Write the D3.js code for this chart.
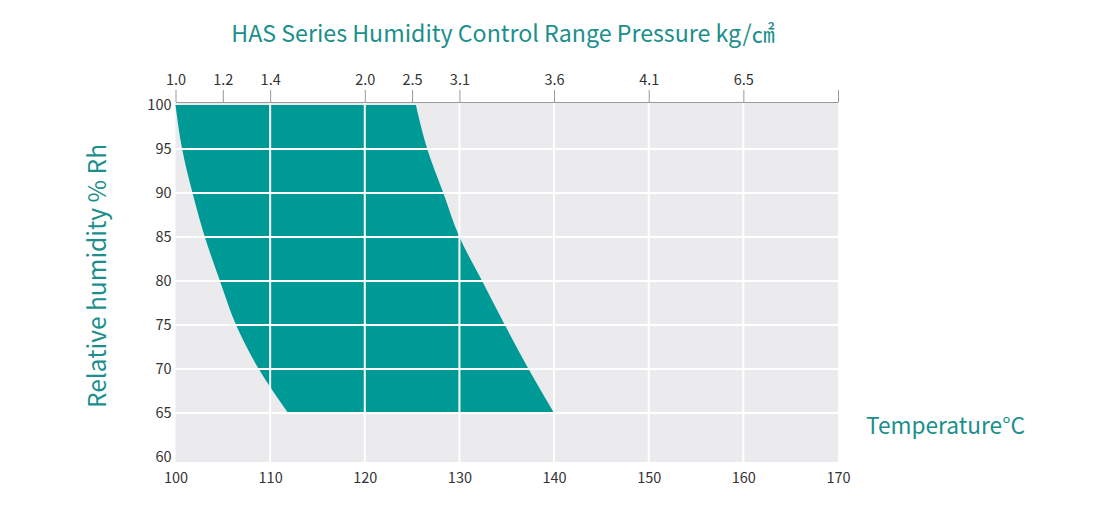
<!DOCTYPE html>
<html>
<head>
<meta charset="utf-8">
<script src="https://cdn.jsdelivr.net/npm/d3@7"></script>
<style>
  body { margin: 0; background: #fff; }
  svg text { font-family: "Noto Sans CJK SC", "Noto Sans", sans-serif; }
</style>
</head>
<body>
<svg id="chart" width="1099" height="527"></svg>
<script>
// humidity levels (% Rh) and the temperature limits
const humidity = [100, 95, 90, 85, 80, 75, 70, 65];
const leftTemp = [100, 100.7, 101.8, 103.1, 104.7, 106.4, 108.8, 111.9];
const rightTemp = [125.4, 126.6, 128.3, 130.0, 132.4, 134.8, 137.3, 140.0];

// axes
const tempTicks = [100, 110, 120, 130, 140, 150, 160, 170];
const humTicks = [60, 65, 70, 75, 80, 85, 90, 95, 100];
const pressureLabels = ['1.0', '1.2', '1.4', '2.0', '2.5', '3.1', '3.6', '4.1', '6.5', ''];
const pressureAt = [100, 105, 110, 120, 125, 130, 140, 150, 160, 170];

const teal = '#009a96';
const textTeal = '#1b8f8c';

const svg = d3.select('#chart');

const x = d3.scaleLinear().domain([100, 170]).range([175.5, 838]);
const y = d3.scaleLinear().domain([60, 100]).range([457, 105]);

const plotTop = 103, plotBottom = 462;

// grey plot background
svg.append('rect')
  .attr('x', x(100))
  .attr('y', plotTop)
  .attr('width', x(170) - x(100))
  .attr('height', plotBottom - plotTop)
  .attr('fill', '#ebebed');

// range band
const rows = humidity.map((h, i) => ({h: h, l: leftTemp[i], r: rightTemp[i]}));
const area = d3.area()
  .y(d => y(d.h))
  .x0(d => x(d.l))
  .x1(d => x(d.r))
  .curve(d3.curveMonotoneY);

svg.append('path')
  .datum(rows)
  .attr('d', area)
  .attr('fill', teal);

// white grid on top of everything
const grid = svg.append('g').attr('stroke', '#fff').attr('stroke-width', 2);
grid.selectAll('.vg')
  .data(tempTicks.filter(t => t > 100 && t < 170))
  .enter().append('line')
  .attr('x1', d => x(d)).attr('x2', d => x(d))
  .attr('y1', plotTop).attr('y2', plotBottom);
grid.selectAll('.hg')
  .data(humTicks.filter(t => t > 60 && t < 100))
  .enter().append('line')
  .attr('x1', x(100)).attr('x2', x(170))
  .attr('y1', d => y(d)).attr('y2', d => y(d));

// top pressure axis
const topAxis = svg.append('g')
  .attr('transform', 'translate(0,102)')
  .call(d3.axisTop(x)
    .tickValues(pressureAt)
    .tickFormat((d, i) => pressureLabels[i])
    .tickSize(12)
    .tickSizeOuter(0)
    .tickPadding(5));
topAxis.select('.domain').attr('stroke', '#999');
topAxis.selectAll('.tick line').attr('stroke', '#999');
topAxis.selectAll('text').attr('font-size', 14.5).attr('fill', '#333');

// bottom temperature axis
const bottomAxis = svg.append('g')
  .attr('transform', 'translate(0,' + plotBottom + ')')
  .call(d3.axisBottom(x).tickValues(tempTicks).tickSize(0).tickPadding(11));
bottomAxis.select('.domain').remove();
bottomAxis.selectAll('text').attr('font-size', 14.5).attr('fill', '#333');

// left humidity axis
const leftAxis = svg.append('g')
  .attr('transform', 'translate(' + x(100) + ',0)')
  .call(d3.axisLeft(y).tickValues(humTicks).tickSize(0).tickPadding(4));
leftAxis.select('.domain').remove();
leftAxis.selectAll('text').attr('font-size', 14.5).attr('fill', '#333');

// titles
svg.append('text')
  .attr('x', 503)
  .attr('y', 42)
  .attr('text-anchor', 'middle')
  .attr('font-size', 23.2)
  .attr('fill', textTeal)
  .text('HAS Series Humidity Control Range Pressure kg/㎠');

svg.append('text')
  .attr('transform', 'translate(106,276) rotate(-90)')
  .attr('text-anchor', 'middle')
  .attr('font-size', 24.5)
  .attr('fill', textTeal)
  .text('Relative humidity % Rh');

svg.append('text')
  .attr('x', 866)
  .attr('y', 434)
  .attr('font-size', 22.7)
  .attr('fill', textTeal)
  .text('Temperature°C');
</script>
</body>
</html>
